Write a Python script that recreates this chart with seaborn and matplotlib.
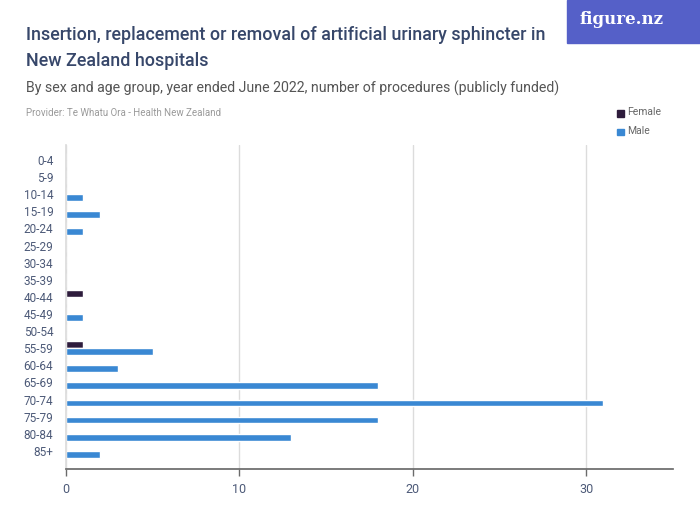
import pandas as pd
import seaborn as sns
import matplotlib.pyplot as plt
from matplotlib.patches import Rectangle

# Data
age_groups = ['0-4', '5-9', '10-14', '15-19', '20-24', '25-29', '30-34', '35-39',
              '40-44', '45-49', '50-54', '55-59', '60-64', '65-69', '70-74',
              '75-79', '80-84', '85+']
female = [0, 0, 0, 0, 0, 0, 0, 0, 1, 0, 0, 1, 0, 0, 0, 0, 0, 0]
male = [0, 0, 1, 2, 1, 0, 0, 0, 0, 1, 0, 5, 3, 18, 31, 18, 13, 2]
sexes = ['Female', 'Male']
x_ticks = [0, 10, 20, 30]


def fit_width(fig, txt, target_px):
    # shrink/grow a text so it spans roughly the same width as the reference
    r = fig.canvas.get_renderer()
    w = txt.get_window_extent(renderer=r).width
    txt.set_fontsize(txt.get_fontsize() * target_px / w)


def main():
    df = pd.DataFrame({
        'Age': age_groups * 2,
        'Sex': ['Female'] * len(age_groups) + ['Male'] * len(age_groups),
        'Procedures': female + male,
    })

    sns.set_theme(style='white')
    plt.rcParams['font.family'] = ['Roboto', 'DejaVu Sans']

    palette = {'Female': '#2e1c3c', 'Male': '#3a88d3'}
    title_col = '#37476a'
    tick_col = '#4d5a78'

    fig = plt.figure(figsize=(7, 5.25), dpi=100)
    ax = fig.add_axes([0.094, 0.107, 0.867, 0.617])

    sns.barplot(data=df, y='Age', x='Procedures', hue='Sex', order=age_groups,
                hue_order=sexes, palette=palette, orient='h', width=0.8,
                saturation=1, ax=ax, legend=False)

    ax.set_xlim(0, 35)
    ax.set_ylim(18.05, -0.88)
    ax.set_xticks(x_ticks)
    ax.set_xlabel('')
    ax.set_ylabel('')
    ax.xaxis.grid(True, color='#dcdcdc', linewidth=1)
    ax.set_axisbelow(True)
    for side in ['top', 'right']:
        ax.spines[side].set_visible(False)
    ax.spines['left'].set_color('#dcdcdc')
    ax.spines['bottom'].set_color('#6b6b6b')
    ax.tick_params(axis='x', colors=tick_col, labelsize=9, length=5,
                   width=1, color='#6b6b6b', direction='out', bottom=True, pad=5)
    ax.tick_params(axis='y', colors=tick_col, labelsize=8.5, length=0, pad=9)

    # Titles
    t1 = fig.text(0.037, 0.933, 'Insertion, replacement or removal of artificial urinary sphincter in',
                  fontsize=13, color=title_col, va='center', fontweight='medium')
    t2 = fig.text(0.037, 0.883, 'New Zealand hospitals', fontsize=13,
                  color=title_col, va='center', fontweight='medium')
    t3 = fig.text(0.037, 0.832, 'By sex and age group, year ended June 2022, number of procedures (publicly funded)',
                  fontsize=11, color='#555555', va='center')
    t4 = fig.text(0.037, 0.784, 'Provider: Te Whatu Ora - Health New Zealand',
                  fontsize=7.5, color='#9a9a9a', va='center')
    fit_width(fig, t1, 517)
    t2.set_fontsize(t1.get_fontsize())
    fit_width(fig, t3, 532)
    fit_width(fig, t4, 195)

    # Legend
    for i, s in enumerate(sexes):
        y = 0.786 - i * 0.036
        fig.patches.append(Rectangle((0.882, y - 0.008), 0.009, 0.012,
                                     transform=fig.transFigure,
                                     color=palette[s]))
        fig.text(0.896, y, s, fontsize=7.5, color='#666666', va='center')

    # Logo box
    fig.patches.append(Rectangle((0.81, 0.918), 0.19, 0.082,
                                 transform=fig.transFigure, color='#5560c8'))
    fig.text(0.888, 0.962, 'figure.nz', fontsize=12, color='white',
             ha='center', va='center', family=['DejaVu Serif'],
             fontweight='bold')

    fig.savefig('out.png', dpi=100)


if __name__ == '__main__':
    main()
